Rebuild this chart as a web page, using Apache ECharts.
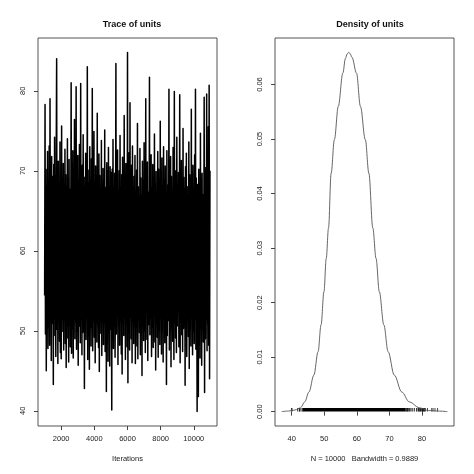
<!DOCTYPE html>
<html>
<head>
<meta charset="utf-8">
<script src="https://cdn.jsdelivr.net/npm/echarts@6/dist/echarts.min.js"></script>
<style>
html,body{margin:0;padding:0;background:#fff;}
#chart{width:474px;height:474px;}
</style>
</head>
<body>
<div id="chart"></div>
<script>
// ---- Trace of units: values (thinned, every 25th iteration) ----
const iterStart = 1001;
const iterStep = 25;
const traceValues = [
54.4,78.3,49.6,70.2,45.0,68.1,51.3,72.4,47.8,66.9,50.5,73.1,48.2,79.0,52.1,67.4,46.3,71.8,50.9,69.3,
58.3,43.3,70.8,49.4,74.2,51.7,67.9,46.8,72.0,84.0,50.2,68.6,45.9,71.2,52.4,66.5,48.7,73.6,47.3,69.8,
46.5,75.6,49.9,68.3,51.5,70.9,47.6,66.1,52.8,72.7,48.4,69.5,45.4,67.2,50.8,74.0,49.1,68.9,46.1,71.4,
51.9,67.7,48.0,59.0,81.0,47.2,69.1,50.3,72.5,46.6,67.0,52.2,76.4,49.0,70.0,51.1,80.5,47.7,68.7,50.0,
71.9,45.7,66.4,50.6,73.3,58.6,48.5,80.9,51.4,68.0,47.0,70.7,49.8,74.5,52.0,67.3,42.8,69.2,50.1,72.2,
48.9,66.8,51.6,83.0,46.4,70.1,49.5,68.4,45.2,73.0,52.6,67.0,48.1,71.5,50.4,80.3,47.5,69.0,51.2,74.9,
49.2,67.6,46.0,70.6,52.3,68.2,48.6,77.2,50.7,66.3,47.9,72.1,44.9,69.4,51.8,67.1,49.7,73.8,46.9,68.5,
52.5,70.3,48.3,66.6,50.9,75.1,47.4,58.0,67.9,42.4,71.0,49.3,69.9,46.2,72.9,51.5,66.0,45.6,70.5,50.2,
69.8,55.6,40.1,70.2,50.1,73.9,47.8,67.2,51.9,69.7,46.7,58.8,83.4,49.6,68.1,52.4,72.6,45.8,67.5,50.6,
70.0,48.2,74.4,51.3,66.7,47.1,69.5,44.6,71.7,50.9,67.8,49.4,76.9,52.0,68.6,46.4,70.9,51.1,66.2,48.0,
84.8,43.5,69.0,50.4,72.3,47.6,78.5,51.7,67.7,49.0,70.7,46.0,73.1,52.1,66.8,48.4,69.3,50.6,71.9,45.9,
67.4,51.5,70.1,48.1,75.9,46.5,68.0,52.5,66.4,49.8,72.8,47.0,69.1,50.3,67.0,44.4,71.2,51.2,68.7,48.8,
73.5,50.0,66.6,47.3,79.0,52.2,69.6,48.9,71.1,46.3,67.3,50.8,57.9,81.7,49.5,68.3,51.6,72.0,46.8,67.8,
50.5,70.8,47.9,66.9,52.8,74.6,48.6,68.4,45.1,69.9,51.4,67.1,49.2,72.4,46.7,70.2,50.1,66.5,48.3,76.2,
51.9,68.1,47.1,71.6,49.9,67.2,46.1,73.0,52.0,69.0,48.5,70.6,50.7,66.7,43.3,72.5,49.4,68.2,51.3,57.5,
80.2,47.6,67.6,50.8,71.8,45.5,69.3,52.3,66.1,48.7,72.9,57.0,46.4,79.9,51.0,68.6,49.1,70.0,47.3,74.2,
50.6,67.0,52.4,69.8,48.0,58.1,79.5,46.0,68.9,51.1,71.3,49.5,67.4,47.4,75.3,50.3,69.2,52.6,67.7,43.2,
70.5,48.9,72.2,46.8,68.0,51.8,66.2,49.3,73.6,45.3,69.5,50.5,67.5,48.1,77.7,52.1,68.8,47.0,70.7,50.0,
66.6,48.4,72.0,51.5,80.2,47.7,69.1,58.4,39.9,68.3,57.6,41.8,70.2,49.8,67.3,46.6,74.7,51.7,68.9,45.7,
69.7,50.2,67.0,48.6,58.0,79.2,42.3,70.4,49.0,68.1,51.4,79.6,47.5,69.4,50.9,75.5,48.2,80.7,44.0,70.0
];
const traceXTicks = [2000, 4000, 6000, 8000, 10000];
const traceYTicks = [40, 50, 60, 70, 80];

// ---- Density of units: curve ----
const densityX = [36.9,39.0,41.0,42.7,44.0,45.3,46.8,48.1,49.0,49.9,50.6,51.3,52.1,53.1,54.3,55.7,56.5,57.0,57.45,57.9,58.5,59.9,61.1,62.6,63.7,64.9,65.9,66.9,68.3,69.6,71.5,73.8,76.1,79.2,82.0,85.0,87.8];
const densityY = [0.0000,0.0001,0.0003,0.0007,0.0018,0.0036,0.0067,0.0110,0.0159,0.0220,0.0281,0.0337,0.0437,0.0499,0.0560,0.0621,0.0648,0.0656,0.0659,0.0657,0.0650,0.0621,0.0560,0.0499,0.0437,0.0337,0.0281,0.0220,0.0159,0.0110,0.0067,0.0036,0.0018,0.0007,0.0002,0.0001,0.0000];
// observations rug: solid band where observations are dense, single ticks in the tails
const rugDenseRange = [43.3, 75.0];
const rugHeight = 0.00066; // max density / 100
const densXTicks = [40, 50, 60, 70, 80];
const densYTicks = [0, 0.01, 0.02, 0.03, 0.04, 0.05, 0.06];
const densN = 10000;
const densBandwidth = 0.9889;

const tracePairs = traceValues.map((v, i) => [iterStart + i * iterStep, v]);
const densPairs = densityX.map((x, i) => [x, densityY[i]]);
const rugTailPairs = traceValues
  .filter(v => v < rugDenseRange[0] || v > rugDenseRange[1])
  .map(v => [v, 0]);

const FONT = 'Liberation Sans, Arial, Helvetica, sans-serif';
const axisCommon = {
  axisLine: {show: false},
  splitLine: {show: false},
  axisTick: {show: true, length: 4, inside: false, lineStyle: {color: '#444', width: 1}},
  axisLabel: {color: '#222', fontFamily: FONT, fontSize: 7.5}
};

const chart = echarts.init(document.getElementById('chart'), null, {renderer: 'canvas'});
chart.setOption({
  animation: false,
  backgroundColor: '#fff',
  title: [
    {text: 'Trace of units', left: 127, top: 15, textAlign: 'center',
     textStyle: {fontFamily: FONT, fontSize: 9, fontWeight: 'bold', color: '#111'}},
    {text: 'Density of units', left: 365, top: 15, textAlign: 'center',
     textStyle: {fontFamily: FONT, fontSize: 9, fontWeight: 'bold', color: '#111'}}
  ],
  grid: [
    {left: 38, right: 257, top: 38, bottom: 48, show: true, borderColor: '#555', borderWidth: 1, backgroundColor: 'transparent', containLabel: false, outerBoundsMode: 'none'},
    {left: 275, right: 20, top: 38, bottom: 48, show: true, borderColor: '#555', borderWidth: 1, backgroundColor: 'transparent', containLabel: false, outerBoundsMode: 'none'}
  ],
  xAxis: [
    Object.assign({}, axisCommon, {
      type: 'value', gridIndex: 0, min: 601, max: 11400,
      name: 'Iterations', nameLocation: 'middle', nameGap: 29,
      nameTextStyle: {fontFamily: FONT, fontSize: 7.5, color: '#222'},
      axisTick: Object.assign({}, axisCommon.axisTick, {customValues: traceXTicks}),
      axisLabel: Object.assign({}, axisCommon.axisLabel, {customValues: traceXTicks, margin: 9,
        formatter: v => String(v)})
    }),
    Object.assign({}, axisCommon, {
      type: 'value', gridIndex: 1, min: 34.86, max: 89.84,
      name: 'N = ' + densN + '   Bandwidth = ' + densBandwidth, nameLocation: 'middle', nameGap: 29,
      nameTextStyle: {fontFamily: FONT, fontSize: 7.5, color: '#222'},
      axisTick: Object.assign({}, axisCommon.axisTick, {customValues: densXTicks}),
      axisLabel: Object.assign({}, axisCommon.axisLabel, {customValues: densXTicks, margin: 9,
        formatter: v => String(v)})
    })
  ],
  yAxis: [
    Object.assign({}, axisCommon, {
      type: 'value', gridIndex: 0, min: 38.1, max: 86.6,
      axisTick: Object.assign({}, axisCommon.axisTick, {customValues: traceYTicks}),
      axisLabel: Object.assign({}, axisCommon.axisLabel, {customValues: traceYTicks, rotate: 90, margin: 11,
        formatter: v => String(v)})
    }),
    Object.assign({}, axisCommon, {
      type: 'value', gridIndex: 1, min: -0.00264, max: 0.06854,
      axisTick: Object.assign({}, axisCommon.axisTick, {customValues: densYTicks}),
      axisLabel: Object.assign({}, axisCommon.axisLabel, {customValues: densYTicks, rotate: 90, margin: 11,
        formatter: v => v.toFixed(2)})
    })
  ],
  series: [
    {type: 'line', xAxisIndex: 0, yAxisIndex: 0, data: tracePairs, showSymbol: false, symbol: 'none',
     lineStyle: {color: '#000', width: 1.5, join: 'round'}, silent: true},
    {type: 'line', xAxisIndex: 1, yAxisIndex: 1, data: densPairs, showSymbol: false, symbol: 'none',
     smooth: 0.35, smoothMonotone: 'x',
     lineStyle: {color: '#555', width: 0.9}, silent: true,
     markArea: {silent: true, itemStyle: {color: '#000'},
       data: [[{coord: [rugDenseRange[0], 0]}, {coord: [rugDenseRange[1], rugHeight]}]]}},
    {type: 'scatter', xAxisIndex: 1, yAxisIndex: 1, data: rugTailPairs, symbol: 'rect',
     symbolSize: [0.9, 3.5], symbolOffset: [0, '-50%'], itemStyle: {color: '#000'}, silent: true}
  ]
});
</script>
</body>
</html>
